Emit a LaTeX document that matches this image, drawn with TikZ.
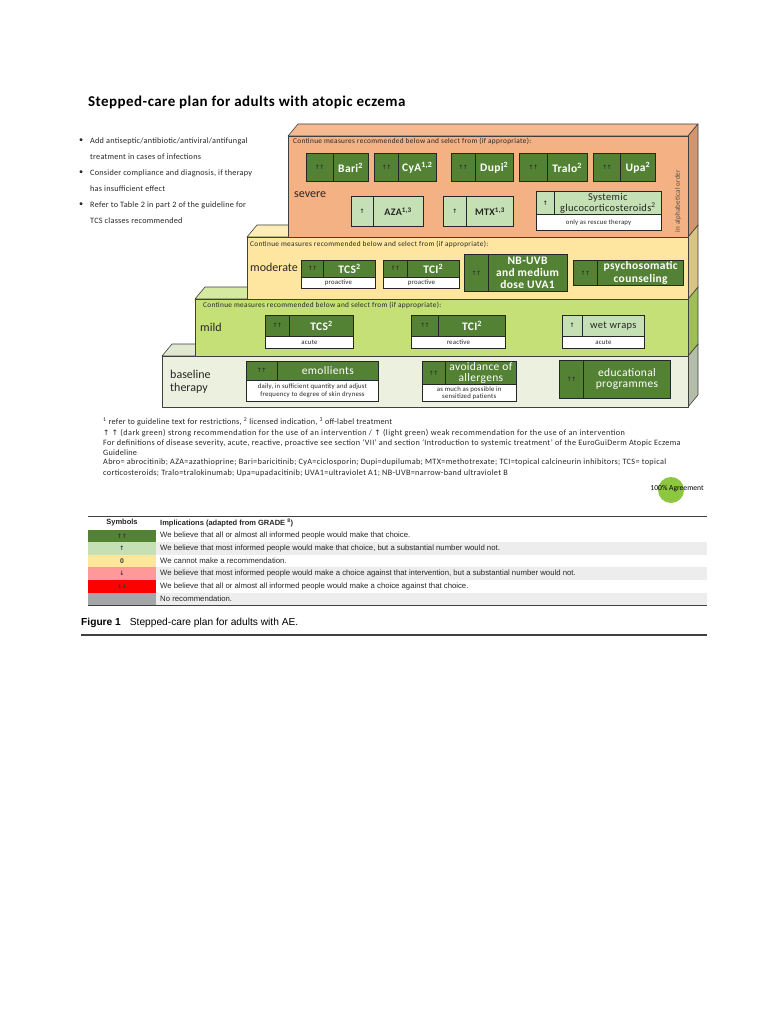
\documentclass[tikz,border=0pt]{standalone}
\usepackage{fontspec}
\setmainfont{Carlito}
\newfontfamily\ctA[LetterSpace=3]{Carlito}
\newfontfamily\ctE[LetterSpace=4]{Carlito}
\newfontfamily\ctF[LetterSpace=4.6]{Carlito}
\newfontfamily\ctG[LetterSpace=5.5]{Carlito}
\newfontfamily\arialf{Liberation Sans}
\newfontfamily\dejavu{DejaVu Sans}
\definecolor{sevF}{HTML}{F4B183}
\definecolor{sevT}{HTML}{F6BA92}
\definecolor{sevS}{HTML}{D19670}
\definecolor{modF}{HTML}{FFE6A0}
\definecolor{modT}{HTML}{FFEDB8}
\definecolor{modS}{HTML}{D8C586}
\definecolor{milF}{HTML}{C4E077}
\definecolor{milT}{HTML}{D5EAA0}
\definecolor{milS}{HTML}{9FBE58}
\definecolor{basF}{HTML}{EBF1DE}
\definecolor{basT}{HTML}{E0E8D2}
\definecolor{basS}{HTML}{B4BCAA}
\definecolor{dg}{HTML}{548235}
\definecolor{lg}{HTML}{C5E0B4}
\definecolor{tyel}{HTML}{FFE699}
\definecolor{tpink}{HTML}{FF9999}
\definecolor{tred}{HTML}{FF0000}
\definecolor{tgray}{HTML}{A6A6A6}
\definecolor{rowg}{HTML}{EDEDED}
\definecolor{agc}{HTML}{8DC63F}
\tikzset{
  face/.style={draw=black!75, line width=0.6pt, line join=round},
  cellb/.style={draw=black!85, line width=0.7pt, inner sep=0pt, anchor=north west, align=center},
  dgb/.style={fill=dg, text=white, font=\ctA\bfseries\fontsize{11.5}{12.3}\selectfont},
  dgr/.style={fill=dg, text=white, font=\ctA\fontsize{11.5}{11.3}\selectfont},
  lgb/.style={fill=lg, text=black!85, font=\ctA\bfseries\fontsize{10}{11}\selectfont},
  lgr/.style={fill=lg, text=black!85, font=\ctA\fontsize{10.5}{11}\selectfont},
  subb/.style={draw=black!85, line width=0.7pt, inner sep=0pt, anchor=north west, align=center, fill=white,
     font=\ctA\fontsize{6.8}{7.6}\selectfont, text=black!85},
  lbl/.style={anchor=west, inner sep=0pt, font=\fontsize{12}{13.5}\selectfont, text=black!85},
  cont/.style={anchor=west, inner sep=0pt, font=\ctF\fontsize{7.3}{7.5}\selectfont, text=black!85},
  bul/.style={anchor=west, inner sep=0pt, font=\ctA\fontsize{8.2}{8.5}\selectfont, text=black!85},
  foot/.style={anchor=west, inner sep=0pt, font=\ctA\fontsize{8.2}{8.5}\selectfont, text=black!85},
  ttxt/.style={anchor=west, inner sep=0pt, font=\arialf\fontsize{7.75}{8}\selectfont, text=black!85},
  sym/.style={inner sep=0pt, font=\dejavu\bfseries\fontsize{6}{6}\selectfont, text=black!80},
}
\newcommand\uu{{\dejavu\bfseries\fontsize{6}{6}\selectfont\color{black!80}↑\kern-0.6pt↑}}
\newcommand\uo{{\dejavu\bfseries\fontsize{6}{6}\selectfont\color{black!80}↑}}
% step block: name, x1, y1, x2, y2, colour prefix
\newcommand\stepblock[6]{%
  \path[face, fill=#6T] (#2,#3) -- (#2+10,#3-12) -- (#4+10,#3-12) -- (#4,#3) -- cycle;
  \path[face, fill=#6S] (#4,#3) -- (#4+10,#3-12) -- (#4+10,#5-12) -- (#4,#5) -- cycle;
  \node[face, fill=#6F, inner sep=0pt, anchor=north west, minimum width={#4-#2}, minimum height={#5-#3}] (#1) at (#2,#3) {};
}
% recommendation box: name, x1, xdiv, x2, y1, y2, style, arrows, text
\newcommand\tbox[9]{%
  \node[cellb, #7, minimum width={#3-#2}, minimum height={#6-#5}] (#1a) at (#2,#5) {#8};
  \node[cellb, #7, minimum width={#4-#3}, minimum height={#6-#5}] (#1) at (#3,#5) {#9};
}
% white sub box: name, x1, x2, y1, y2, text
\newcommand\subbox[6]{%
  \node[subb, minimum width={#3-#2}, minimum height={#5-#4}] (#1) at (#2,#4) {#6};
}
\begin{document}
\begin{tikzpicture}[x=1pt, y=-1pt]
\path[use as bounding box, fill=white] (0,0) rectangle (768,1024);

% title and bullets
\node[anchor=west, inner sep=0pt, font=\ctA\bfseries\fontsize{15}{16}\selectfont] (title) at (88,102) {Stepped-care plan for adults with atopic eczema};
\node[bul] (d1) at (79,141) {\textbullet};
\node[bul] (b1) at (90,141) {Add antiseptic/antibiotic/antiviral/antifungal};
\node[bul] (b2) at (90,157) {treatment in cases of infections};
\node[bul] (d2) at (79,173) {\textbullet};
\node[bul] (b3) at (90,173) {Consider compliance and diagnosis, if therapy};
\node[bul] (b4) at (90,189) {has insufficient effect};
\node[bul] (d3) at (79,205) {\textbullet};
\node[bul] (b5) at (90,205) {Refer to Table 2 in part 2 of the guideline for};
\node[bul] (b6) at (90,221) {TCS classes recommended};

% steps
\stepblock{base}{162}{356}{688}{407}{bas}
\stepblock{mild}{195}{299}{688}{356}{mil}
\stepblock{mod}{247}{237}{688}{299}{mod}
\stepblock{sev}{288}{136}{688}{237}{sev}

% severe
\node[cont] (c1) at (293,141.5) {Continue measures recommended below and select from (if appropriate):};
\node[lbl] (lsev) at (294,195) {severe};
\node[rotate=90, inner sep=0pt, font=\ctA\fontsize{7}{7}\selectfont, text=black!70] (alpha) at (678,201) {in alphabetical order};
\tbox{bari}{306}{332.7}{367.7}{153}{181.5}{dgb}{\uu}{Bari\textsuperscript{2}}
\tbox{cya}{374.3}{398.3}{435.7}{153}{181.5}{dgb}{\uu}{CyA\textsuperscript{1,2}}
\tbox{dupi}{450.5}{475}{512.7}{153}{181.5}{dgb}{\uu}{Dupi\textsuperscript{2}}
\tbox{tralo}{519.3}{546.7}{586.7}{153}{181.5}{dgb}{\uu}{Tralo\textsuperscript{2}}
\tbox{upa}{593.3}{620}{655}{153}{181.5}{dgb}{\uu}{Upa\textsuperscript{2}}
\tbox{aza}{351}{372.7}{422.7}{196}{226.5}{lgb}{\uo}{AZA\textsuperscript{1,3}}
\tbox{mtx}{443.3}{466}{513.3}{196}{226.5}{lgb}{\uo}{MTX\textsuperscript{1,3}}
\tbox{gcs}{535.7}{554.3}{660.7}{191}{214.3}{lgr}{\uo}{Systemic\\glucocorticosteroids\textsuperscript{2}}
\subbox{gcss}{535.7}{660.7}{214.3}{230}{only as rescue therapy}

% moderate
\node[cont] (c2) at (250,244) {Continue measures recommended below and select from (if appropriate):};
\node[lbl] (lmod) at (250,267) {moderate};
\tbox{mtcs}{301}{323.3}{375}{259.7}{277}{dgb}{\uu}{TCS\textsuperscript{2}}
\subbox{mtcss}{301}{375}{277}{288}{proactive}
\tbox{mtci}{383.3}{406.7}{459}{259.7}{277}{dgb}{\uu}{TCI\textsuperscript{2}}
\subbox{mtcis}{383.3}{459}{277}{288}{proactive}
\tbox{nbuvb}{464.3}{487.7}{566.7}{253.7}{291.3}{dgb}{\uu}{NB-UVB\\and medium\\dose UVA1}
\tbox{psy}{572.7}{597.3}{683.3}{259.7}{285.3}{dgb}{\uu}{psychosomatic\\counseling}

% mild
\node[cont] (c3) at (203,305) {Continue measures recommended below and select from (if appropriate):};
\node[lbl] (lmild) at (200,327) {mild};
\tbox{ltcs}{265}{289}{353.3}{315}{335.7}{dgb}{\uu}{TCS\textsuperscript{2}}
\subbox{ltcss}{265}{353.3}{335.7}{348.3}{acute}
\tbox{ltci}{411}{438.3}{505}{315}{335.7}{dgb}{\uu}{TCI\textsuperscript{2}}
\subbox{ltcis}{411}{505}{335.7}{348.3}{reactive}
\tbox{wet}{561.7}{581.7}{644.3}{315}{335.7}{lgr}{\uo}{wet wraps}
\subbox{wets}{561.7}{644.3}{335.7}{348.3}{acute}

% baseline
\node[lbl, align=left] (lbase) at (170,382) {baseline\\therapy};
\tbox{emo}{246}{276.7}{378.3}{360.7}{380}{dgr}{\uu}{emollients}
\subbox{emos}{246}{378.3}{380}{401}{daily, in sufficient quantity and adjust\\frequency to degree of skin dryness}
\tbox{avo}{421.7}{445}{516}{360.7}{384.3}{dgr}{\uu}{avoidance of\\allergens}
\subbox{avos}{421.7}{516}{384.3}{401}{as much as possible in\\sensitized patients}
\tbox{edu}{559.3}{583.3}{670}{360}{397.7}{dgr}{\uu}{educational\\programmes}

% footnotes
\node[foot] (f1) at (103,422) {\textsuperscript{1} refer to guideline text for restrictions, \textsuperscript{2} licensed indication, \textsuperscript{3} off-label treatment};
\node[foot, font=\ctG\fontsize{8.2}{8.5}\selectfont] (f2) at (103,433) {{\dejavu\fontsize{7.5}{7}\selectfont ↑ ↑} (dark green) strong recommendation for the use of an intervention / {\dejavu\fontsize{7.5}{7}\selectfont ↑} (light green) weak recommendation for the use of an intervention};
\node[foot, font=\ctE\fontsize{8.2}{8.5}\selectfont] (f3) at (103,443) {For definitions of disease severity, acute, reactive, proactive see section ‘VII’ and section ‘Introduction to systemic treatment’ of the EuroGuiDerm Atopic Eczema};
\node[foot] (f4) at (103,452.5) {Guideline};
\node[foot, font=\ctE\fontsize{8.2}{8.5}\selectfont] (f5) at (103,462.5) {Abro= abrocitinib; AZA=azathioprine; Bari=baricitinib; CyA=ciclosporin; Dupi=dupilumab; MTX=methotrexate; TCI=topical calcineurin inhibitors; TCS= topical};
\node[foot, font=\ctE\fontsize{8.2}{8.5}\selectfont] (f6) at (103,473) {corticosteroids; Tralo=tralokinumab; Upa=upadacitinib; UVA1=ultraviolet A1; NB-UVB=narrow-band ultraviolet B};

% agreement
\fill[agc] (671,490) circle (13);
\node[inner sep=0pt, font=\fontsize{7.6}{7.6}\selectfont] (agree) at (677,489) {100\% Agreement};

% table
\foreach \i/\sc/\tc in {0/dg/white,1/lg/rowg,2/tyel/white,3/tpink/rowg,4/tred/white,5/tgray/rowg}{
  \fill[\sc] (88,529.5+12.6*\i) rectangle (156,529.5+12.6*\i+12.6);
  \fill[\tc] (156,529.5+12.6*\i) rectangle (707,529.5+12.6*\i+12.6);
}
\draw[line width=1pt, black!75] (88,516.5) -- (707,516.5);
\draw[line width=1pt, black!75] (88,605.3) -- (707,605.3);
\node[inner sep=0pt, font=\arialf\bfseries\fontsize{7.5}{7.5}\selectfont, text=black!85] (hs) at (122,523) {Symbols};
\node[ttxt, font=\arialf\bfseries\fontsize{7.5}{7.5}\selectfont] (hi) at (160,523) {Implications (adapted from GRADE \textsuperscript{8})};
\node[sym] (s1) at (122,535.8) {↑\kern-0.5pt↑};
\node[sym] (s2) at (122,548.4) {↑};
\node[sym, font=\arialf\bfseries\fontsize{6.8}{6}\selectfont] (s3) at (122,561) {0};
\node[sym] (s4) at (122,573.6) {↓};
\node[sym] (s5) at (122,586.2) {↓\kern-0.5pt↓};
\node[ttxt] (t1) at (160,535.8) {We believe that all or almost all informed people would make that choice.};
\node[ttxt] (t2) at (160,548.4) {We believe that most informed people would make that choice, but a substantial number would not.};
\node[ttxt] (t3) at (160,561) {We cannot make a recommendation.};
\node[ttxt] (t4) at (160,573.6) {We believe that most informed people would make a choice against that intervention, but a substantial number would not.};
\node[ttxt] (t5) at (160,586.2) {We believe that all or almost all informed people would make a choice against that choice.};
\node[ttxt] (t6) at (160,598.8) {No recommendation.};

% caption
\node[anchor=west, inner sep=0pt, font=\arialf\fontsize{10.2}{11}\selectfont] (cap) at (81,623) {\textbf{Figure 1}\hspace{9pt}Stepped-care plan for adults with AE.};
\draw[line width=1.2pt, black!75] (81,635) -- (707,635);
\end{tikzpicture}
\end{document}
